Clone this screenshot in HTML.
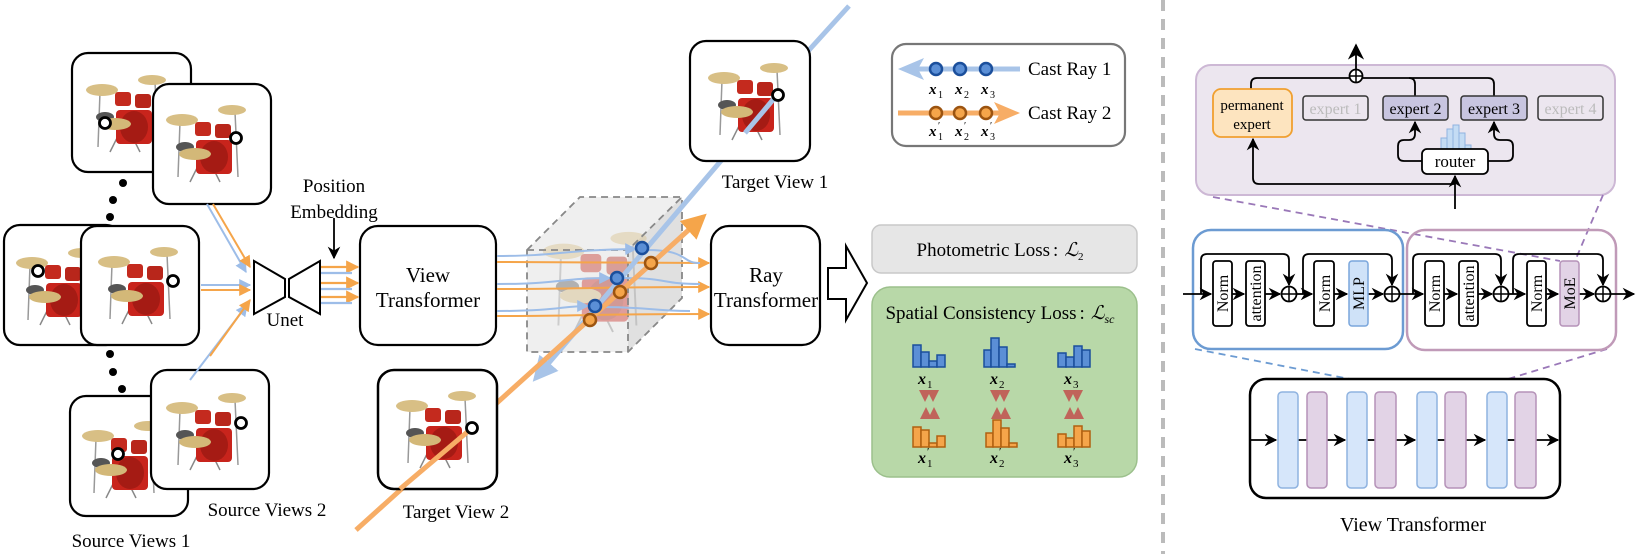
<!DOCTYPE html>
<html><head><meta charset="utf-8"><style>
html,body{margin:0;padding:0;background:#fff;}
svg{display:block;font-family:"Liberation Serif",serif;}
</style></head><body>
<svg width="1637" height="554" viewBox="0 0 1637 554" xmlns="http://www.w3.org/2000/svg">
<defs>
<g id="kit">
  <line x1="20" y1="30" x2="18" y2="85" stroke="#999" stroke-width="1.5"/>
  <line x1="75" y1="20" x2="78" y2="85" stroke="#999" stroke-width="1.5"/>
  <line x1="30" y1="90" x2="45" y2="60" stroke="#888" stroke-width="1.5"/>
  <line x1="60" y1="90" x2="45" y2="60" stroke="#888" stroke-width="1.5"/>
  <ellipse cx="22" cy="28" rx="16" ry="6" fill="#d8bf85"/>
  <ellipse cx="72" cy="18" rx="14" ry="5" fill="#d8bf85"/>
  <rect x="35" y="30" width="16" height="14" rx="3" fill="#c42a1e"/>
  <rect x="55" y="32" width="16" height="14" rx="3" fill="#b8261b"/>
  <ellipse cx="25" cy="55" rx="9" ry="5" fill="#555"/>
  <rect x="36" y="48" width="36" height="34" rx="4" fill="#c8241c"/>
  <ellipse cx="54" cy="65" rx="14" ry="16" fill="#a51b14"/>
  <ellipse cx="35" cy="62" rx="16" ry="6" fill="#d3b878"/>
</g>
<marker id="ah" viewBox="0 0 10 10" refX="9" refY="5" markerWidth="9" markerHeight="9" orient="auto-start-reverse"><path d="M0,0 L10,5 L0,10 L3,5z" fill="#000"/></marker>
<marker id="ahs" viewBox="0 0 10 10" refX="9" refY="5" markerWidth="7" markerHeight="7" orient="auto"><path d="M0,0 L10,5 L0,10 L3,5z" fill="#000"/></marker>
<marker id="ao" viewBox="0 0 10 10" refX="9" refY="5" markerWidth="6" markerHeight="6" orient="auto"><path d="M0,0 L10,5 L0,10z" fill="#f5a54a"/></marker>
<marker id="ab" viewBox="0 0 10 10" refX="9" refY="5" markerWidth="6" markerHeight="6" orient="auto"><path d="M0,0 L10,5 L0,10z" fill="#9dbde8"/></marker>
<marker id="aoL" viewBox="0 0 10 10" refX="8" refY="5" markerWidth="5" markerHeight="5" orient="auto"><path d="M0,0 L10,5 L0,10z" fill="#f5a54a"/></marker>
<marker id="abL" viewBox="0 0 10 10" refX="8" refY="5" markerWidth="5" markerHeight="5" orient="auto"><path d="M0,0 L10,5 L0,10z" fill="#a8c4e8"/></marker>
</defs>

<!-- Source cards -->
<rect x="72" y="53" width="119" height="119" rx="16" fill="#fff" stroke="#000" stroke-width="2.2"/>
<use href="#kit" transform="translate(80,62)"/>
<rect x="153" y="84" width="118" height="120" rx="16" fill="#fff" stroke="#000" stroke-width="2.2"/>
<use href="#kit" transform="translate(160,92)"/>
<rect x="4" y="225" width="118" height="120" rx="16" fill="#fff" stroke="#000" stroke-width="2.2"/>
<use href="#kit" transform="translate(10,235)"/>
<rect x="81" y="226" width="118" height="119" rx="16" fill="#fff" stroke="#000" stroke-width="2.2"/>
<use href="#kit" transform="translate(92,234)"/>
<rect x="70" y="396" width="118" height="120" rx="16" fill="#fff" stroke="#000" stroke-width="2.2"/>
<use href="#kit" transform="translate(76,408)"/>
<rect x="151" y="370" width="118" height="119" rx="16" fill="#fff" stroke="#000" stroke-width="2.2"/>
<use href="#kit" transform="translate(160,380)"/>
<g fill="#fff" stroke="#000" stroke-width="2.8">
<circle cx="105" cy="123" r="5.5"/><circle cx="236" cy="138" r="5.5"/><circle cx="38" cy="271" r="5.5"/>
<circle cx="173" cy="281" r="5.5"/><circle cx="118" cy="454" r="5.5"/><circle cx="241" cy="423" r="5.5"/>
</g>
<g fill="#000"><circle cx="123" cy="183" r="4"/><circle cx="113" cy="200" r="4"/><circle cx="110" cy="217" r="4"/>
<circle cx="110" cy="354" r="4"/><circle cx="113" cy="372" r="4"/><circle cx="122" cy="389" r="4"/></g>
<text x="131" y="547" font-size="19" text-anchor="middle">Source Views 1</text>
<text x="267" y="516" font-size="19" text-anchor="middle">Source Views 2</text>

<g stroke-width="2" fill="none">
<line x1="207" y1="204" x2="246" y2="272" stroke="#9dbde8" marker-end="url(#ab)"/>
<line x1="213" y1="204" x2="250" y2="267" stroke="#f5a54a" marker-end="url(#ao)"/>
<line x1="201" y1="285" x2="250" y2="285" stroke="#9dbde8" marker-end="url(#ab)"/>
<line x1="201" y1="290" x2="250" y2="290" stroke="#f5a54a" marker-end="url(#ao)"/>
<line x1="190" y1="380" x2="247" y2="305" stroke="#9dbde8" marker-end="url(#ab)"/>
<line x1="210" y1="356" x2="250" y2="300" stroke="#f5a54a" marker-end="url(#ao)"/>
</g>
<path d="M254,261 L285,279 L285,297 L254,314 Z" fill="#fff" stroke="#000" stroke-width="2"/>
<path d="M320,261 L289,279 L289,297 L320,314 Z" fill="#fff" stroke="#000" stroke-width="2"/>
<text x="285" y="326" font-size="19" text-anchor="middle">Unet</text>
<text x="334" y="192" font-size="19" text-anchor="middle">Position</text>
<text x="334" y="218" font-size="19" text-anchor="middle">Embedding</text>
<line x1="334" y1="218" x2="334" y2="258" stroke="#000" stroke-width="1.8" marker-end="url(#ahs)"/>
<g stroke-width="2.2" fill="none">
<line x1="321" y1="267" x2="358" y2="267" stroke="#f5a54a" marker-end="url(#ao)"/>
<line x1="321" y1="273" x2="352" y2="273" stroke="#9dbde8"/>
<line x1="321" y1="283" x2="358" y2="283" stroke="#f5a54a" marker-end="url(#ao)"/>
<line x1="321" y1="289" x2="352" y2="289" stroke="#9dbde8"/>
<line x1="321" y1="297" x2="358" y2="297" stroke="#f5a54a" marker-end="url(#ao)"/>
<line x1="321" y1="303" x2="352" y2="303" stroke="#9dbde8"/>
</g>

<rect x="360" y="226" width="136" height="119" rx="18" fill="#fff" stroke="#000" stroke-width="2.2"/>
<text x="428" y="282" font-size="21" text-anchor="middle">View</text>
<text x="428" y="307" font-size="21" text-anchor="middle">Transformer</text>

<path d="M580,197 L682,197 L682,298 L628,352 L527,352 L527,250 Z" fill="#ececec" opacity="0.85"/>
<path d="M628,250 L682,197 L682,298 L628,352 Z" fill="#e0e0e0"/>
<g opacity="0.4"><use href="#kit" transform="translate(535,215) scale(1.3)"/></g>
<g stroke="#888" stroke-width="1.8" stroke-dasharray="7,5" fill="none">
<path d="M527,250 L580,197 L682,197 L682,298 L628,352 L527,352 Z"/>
<path d="M527,250 L628,250 L682,197 M628,250 L628,352"/>
</g>
<g fill="none" stroke-width="2">
<path d="M497,256 C560,256 560,250 636,249" stroke="#9dbde8" marker-end="url(#ab)"/>
<path d="M497,262 C580,262 600,263 709,263" stroke="#f5a54a" marker-end="url(#ao)"/>
<path d="M646,250 C690,250 680,263 700,263" stroke="#9dbde8"/>
<path d="M497,284 C560,284 560,278 610,278" stroke="#9dbde8" marker-end="url(#ab)"/>
<path d="M497,289 C580,289 600,287 709,287" stroke="#f5a54a" marker-end="url(#ao)"/>
<path d="M622,278 C670,278 660,284 700,284" stroke="#9dbde8"/>
<path d="M497,311 C560,311 560,306 588,306" stroke="#9dbde8" marker-end="url(#ab)"/>
<path d="M497,316 C580,316 600,314 709,314" stroke="#f5a54a" marker-end="url(#ao)"/>
<path d="M600,307 C650,307 650,311 690,311" stroke="#9dbde8"/>
</g>
<line x1="849" y1="6" x2="800" y2="60" stroke="#a8c4e8" stroke-width="5"/>
<line x1="777" y1="95" x2="536" y2="378" stroke="#a8c4e8" stroke-width="5" marker-end="url(#abL)"/>
<line x1="356" y1="530" x2="703" y2="217" stroke="#f7ad66" stroke-width="5" marker-end="url(#aoL)"/>
<g stroke-width="2.5">
<circle cx="642" cy="248" r="6" fill="#5b8fd6" stroke="#1b4f9c"/>
<circle cx="617" cy="278" r="6" fill="#5b8fd6" stroke="#1b4f9c"/>
<circle cx="595" cy="306" r="6" fill="#5b8fd6" stroke="#1b4f9c"/>
<circle cx="651" cy="263" r="6" fill="#f5a54a" stroke="#9c5410"/>
<circle cx="620" cy="292" r="6" fill="#f5a54a" stroke="#9c5410"/>
<circle cx="590" cy="320" r="6" fill="#f5a54a" stroke="#9c5410"/>
</g>

<rect x="690" y="41" width="120" height="120" rx="16" fill="#fff" stroke="#000" stroke-width="2.2"/>
<use href="#kit" transform="translate(702,50)"/>
<line x1="777" y1="95" x2="745" y2="133" stroke="#a8c4e8" stroke-width="5"/>
<circle cx="778" cy="95" r="5.5" fill="#fff" stroke="#000" stroke-width="2.8"/>
<text x="775" y="188" font-size="19" text-anchor="middle">Target View 1</text>
<rect x="378" y="370" width="119" height="119" rx="16" fill="#fff" stroke="#000" stroke-width="2.5"/>
<use href="#kit" transform="translate(390,378)"/>
<line x1="400" y1="489" x2="472" y2="428" stroke="#f7ad66" stroke-width="5"/>
<circle cx="472" cy="428" r="5.5" fill="#fff" stroke="#000" stroke-width="2.8"/>
<text x="456" y="518" font-size="19" text-anchor="middle">Target View 2</text>

<rect x="711" y="226" width="109" height="119" rx="18" fill="#fff" stroke="#000" stroke-width="2.2"/>
<text x="766" y="282" font-size="21" text-anchor="middle">Ray</text>
<text x="766" y="307" font-size="21" text-anchor="middle">Transformer</text>
<path d="M828,268 L846,268 L846,246 L867,283 L846,320 L846,299 L828,299 Z" fill="#fff" stroke="#000" stroke-width="2"/>

<rect x="892" y="44" width="233" height="102" rx="14" fill="#fff" stroke="#777" stroke-width="2.2"/>
<line x1="1020" y1="69" x2="915" y2="69" stroke="#a8c4e8" stroke-width="5"/>
<path d="M898,69 L924,58 L918,69 L924,80 Z" fill="#a8c4e8"/>
<line x1="898" y1="113" x2="1005" y2="113" stroke="#f7ad66" stroke-width="5"/>
<path d="M1020,113 L994,102 L1000,113 L994,124 Z" fill="#f7ad66"/>
<g stroke-width="2.5">
<circle cx="936" cy="69" r="6" fill="#5b8fd6" stroke="#1b4f9c"/><circle cx="960" cy="69" r="6" fill="#5b8fd6" stroke="#1b4f9c"/><circle cx="986" cy="69" r="6" fill="#5b8fd6" stroke="#1b4f9c"/>
<circle cx="936" cy="113" r="6" fill="#f5a54a" stroke="#9c5410"/><circle cx="960" cy="113" r="6" fill="#f5a54a" stroke="#9c5410"/><circle cx="986" cy="113" r="6" fill="#f5a54a" stroke="#9c5410"/>
</g>
<g font-size="15" font-weight="bold" font-style="italic">
<text x="929" y="94">x</text><text x="955" y="94">x</text><text x="981" y="94">x</text>
<text x="929" y="136">x</text><text x="955" y="136">x</text><text x="981" y="136">x</text>
</g>
<g font-size="10">
<text x="938" y="98">1</text><text x="964" y="98">2</text><text x="990" y="98">3</text>
<text x="938" y="140">1</text><text x="964" y="140">2</text><text x="990" y="140">3</text>
<text x="938" y="129">′</text><text x="964" y="129">′</text><text x="990" y="129">′</text>
</g>
<text x="1028" y="75" font-size="19">Cast Ray 1</text>
<text x="1028" y="119" font-size="19">Cast Ray 2</text>

<rect x="872" y="225" width="265" height="48" rx="9" fill="#e6e6e6" stroke="#c8c8c8" stroke-width="1.5"/>
<text x="1000" y="256" font-size="19" text-anchor="middle">Photometric Loss<tspan dx="3">:</tspan><tspan dx="6" font-style="italic">ℒ</tspan><tspan font-size="11" dy="4">2</tspan></text>
<rect x="872" y="287" width="265" height="190" rx="18" fill="#b8d8a8" stroke="#9cc08c" stroke-width="1.5"/>
<text x="1000" y="319" font-size="19" text-anchor="middle">Spatial Consistency Loss<tspan dx="3">:</tspan><tspan dx="6" font-style="italic">ℒ</tspan><tspan font-size="12" dy="4" font-style="italic">sc</tspan></text>
<g stroke-width="1.5">
<g fill="#5b8fd6" stroke="#1b4f9c">
<rect x="913" y="345" width="8" height="22"/><rect x="921" y="352" width="8" height="15"/><rect x="929" y="361" width="8" height="6"/><rect x="937" y="355" width="8" height="12"/>
<rect x="984" y="350" width="7" height="17"/><rect x="991" y="338" width="8" height="29"/><rect x="999" y="347" width="8" height="20"/><rect x="1007" y="364" width="8" height="3"/>
<rect x="1058" y="353" width="8" height="14"/><rect x="1066" y="357" width="8" height="10"/><rect x="1074" y="346" width="8" height="21"/><rect x="1082" y="350" width="8" height="17"/>
</g>
<g fill="#f5a54a" stroke="#b06010">
<rect x="913" y="427" width="8" height="20"/><rect x="921" y="430" width="8" height="17"/><rect x="929" y="443" width="8" height="4"/><rect x="937" y="436" width="8" height="11"/>
<rect x="986" y="433" width="7" height="14"/><rect x="993" y="420" width="8" height="27"/><rect x="1001" y="428" width="8" height="19"/><rect x="1009" y="443" width="8" height="4"/>
<rect x="1058" y="434" width="8" height="13"/><rect x="1066" y="438" width="8" height="9"/><rect x="1074" y="426" width="8" height="21"/><rect x="1082" y="431" width="8" height="16"/>
</g>
</g>
<g fill="#c0645a">
<path d="M919,390 l12,0 l-6,12z M927,390 l12,0 l-6,12z M920,419 l12,0 l-6,-12z M928,419 l12,0 l-6,-12z"/>
<path d="M990,390 l12,0 l-6,12z M998,390 l12,0 l-6,12z M991,419 l12,0 l-6,-12z M999,419 l12,0 l-6,-12z"/>
<path d="M1063,390 l12,0 l-6,12z M1071,390 l12,0 l-6,12z M1064,419 l12,0 l-6,-12z M1072,419 l12,0 l-6,-12z"/>
</g>
<g font-size="16" font-weight="bold" font-style="italic">
<text x="918" y="384">x</text><text x="990" y="384">x</text><text x="1064" y="384">x</text>
<text x="918" y="463">x</text><text x="990" y="463">x</text><text x="1064" y="463">x</text>
</g>
<g font-size="11">
<text x="927" y="388">1</text><text x="999" y="388">2</text><text x="1073" y="388">3</text>
<text x="927" y="467">1</text><text x="999" y="467">2</text><text x="1073" y="467">3</text>
<text x="927" y="455">′</text><text x="999" y="455">′</text><text x="1073" y="455">′</text>
</g>

<line x1="1163" y1="0" x2="1163" y2="554" stroke="#bbb" stroke-width="4" stroke-dasharray="11,8"/>

<rect x="1196" y="65" width="419" height="130" rx="15" fill="#ece6ef" stroke="#cdb8d5" stroke-width="2"/>
<g fill="none" stroke="#000" stroke-width="1.8">
<path d="M1251,89 L1251,84 Q1251,78 1257,78 L1488,78 Q1494,78 1494,84 L1494,96"/>
<path d="M1409,78 Q1415,78 1415,84 L1415,96"/>
<line x1="1356" y1="70" x2="1356" y2="45" marker-end="url(#ah)"/>
<path d="M1422,161 L1404,161 Q1398,161 1398,155 L1398,146 Q1398,140 1404,140 L1409,140 Q1415,140 1415,134 L1415,122" marker-end="url(#ahs)"/>
<path d="M1488,161 L1507,161 Q1513,161 1513,155 L1513,146 Q1513,140 1507,140 L1500,140 Q1494,140 1494,134 L1494,122" marker-end="url(#ahs)"/>
<line x1="1455" y1="209" x2="1455" y2="176" marker-end="url(#ahs)"/>
<path d="M1455,184 L1259,184 Q1253,184 1253,178 L1253,139" marker-end="url(#ahs)"/>
</g>
<circle cx="1356" cy="76" r="6.5" fill="#fff" stroke="#000" stroke-width="1.8"/>
<path d="M1349.5,76 h13 M1356,69.5 v13" stroke="#000" stroke-width="1.5"/>
<rect x="1213" y="89" width="79" height="48" rx="8" fill="#fde4bf" stroke="#f0a030" stroke-width="1.8"/>
<text x="1252" y="110" font-size="15" text-anchor="middle">permanent</text>
<text x="1252" y="129" font-size="15" text-anchor="middle">expert</text>
<rect x="1303" y="96" width="65" height="24" rx="3" fill="#ece6ef" stroke="#333" stroke-width="1.5"/>
<text x="1335.5" y="114" font-size="16" text-anchor="middle" fill="#bbb">expert 1</text>
<rect x="1383" y="96" width="65" height="24" rx="3" fill="#c8c5e0" stroke="#333" stroke-width="1.5"/>
<text x="1415.5" y="114" font-size="16" text-anchor="middle">expert 2</text>
<rect x="1461" y="96" width="66" height="24" rx="3" fill="#c8c5e0" stroke="#333" stroke-width="1.5"/>
<text x="1494" y="114" font-size="16" text-anchor="middle">expert 3</text>
<rect x="1538" y="96" width="65" height="24" rx="3" fill="#ece6ef" stroke="#333" stroke-width="1.5"/>
<text x="1570.5" y="114" font-size="16" text-anchor="middle" fill="#bbb">expert 4</text>
<g fill="#c4dcf4" stroke="#8fb3e0" stroke-width="1">
<rect x="1441" y="138" width="6" height="11"/><rect x="1447" y="129" width="6" height="20"/><rect x="1453" y="125" width="6" height="24"/><rect x="1459" y="133" width="6" height="16"/><rect x="1465" y="145" width="6" height="4"/>
</g>
<rect x="1422" y="149" width="66" height="25" rx="5" fill="#fff" stroke="#000" stroke-width="1.8"/>
<text x="1455" y="167" font-size="17" text-anchor="middle">router</text>

<g stroke-width="1.8" stroke-dasharray="7,5" fill="none">
<line x1="1213" y1="197" x2="1560" y2="261" stroke="#9a78b8"/>
<line x1="1603" y1="195" x2="1575" y2="261" stroke="#9a78b8"/>
<line x1="1195" y1="349" x2="1417" y2="392" stroke="#6c9bd2"/>
<line x1="1607" y1="349" x2="1465" y2="392" stroke="#9a78b8"/>
</g>

<rect x="1193" y="230" width="210" height="119" rx="18" fill="none" stroke="#6c9bd2" stroke-width="2.5"/>
<rect x="1407" y="230" width="209" height="120" rx="18" fill="none" stroke="#c09ab8" stroke-width="2.5"/>
<g fill="none" stroke="#000" stroke-width="1.8">
<line x1="1183" y1="294" x2="1211" y2="294" marker-end="url(#ahs)"/>
<line x1="1232" y1="294" x2="1244" y2="294" marker-end="url(#ahs)"/>
<line x1="1265" y1="294" x2="1280" y2="294" marker-end="url(#ahs)"/>
<line x1="1297" y1="294" x2="1312" y2="294" marker-end="url(#ahs)"/>
<line x1="1334" y1="294" x2="1347" y2="294" marker-end="url(#ahs)"/>
<line x1="1368" y1="294" x2="1383" y2="294" marker-end="url(#ahs)"/>
<line x1="1400" y1="294" x2="1423" y2="294" marker-end="url(#ahs)"/>
<line x1="1444" y1="294" x2="1457" y2="294" marker-end="url(#ahs)"/>
<line x1="1478" y1="294" x2="1492" y2="294" marker-end="url(#ahs)"/>
<line x1="1509" y1="294" x2="1525" y2="294" marker-end="url(#ahs)"/>
<line x1="1546" y1="294" x2="1558" y2="294" marker-end="url(#ahs)"/>
<line x1="1579" y1="294" x2="1594" y2="294" marker-end="url(#ahs)"/>
<line x1="1611" y1="294" x2="1634" y2="294" marker-end="url(#ahs)"/>
<path d="M1201,294 L1201,260 Q1201,254 1207,254 L1283,254 Q1289,254 1289,260 L1289,285" marker-end="url(#ahs)"/>
<path d="M1303,294 L1303,260 Q1303,254 1309,254 L1386,254 Q1392,254 1392,260 L1392,285" marker-end="url(#ahs)"/>
<path d="M1413,294 L1413,260 Q1413,254 1419,254 L1495,254 Q1501,254 1501,260 L1501,285" marker-end="url(#ahs)"/>
<path d="M1513,294 L1513,260 Q1513,254 1519,254 L1597,254 Q1603,254 1603,260 L1603,285" marker-end="url(#ahs)"/>
</g>
<g fill="#fff" stroke="#000" stroke-width="1.8">
<circle cx="1289" cy="294" r="7.5"/><circle cx="1392" cy="294" r="7.5"/><circle cx="1501" cy="294" r="7.5"/><circle cx="1603" cy="294" r="7.5"/>
</g>
<path d="M1281.5,294h15M1289,286.5v15M1384.5,294h15M1392,286.5v15M1493.5,294h15M1501,286.5v15M1595.5,294h15M1603,286.5v15" stroke="#000" stroke-width="1.5"/>
<g stroke="#000" stroke-width="1.8" fill="#fff">
<rect x="1213" y="261" width="19" height="65" rx="3"/><rect x="1246" y="261" width="19" height="65" rx="3"/>
<rect x="1314" y="261" width="20" height="65" rx="3"/>
<rect x="1425" y="261" width="19" height="65" rx="3"/><rect x="1459" y="261" width="19" height="65" rx="3"/>
<rect x="1527" y="261" width="19" height="65" rx="3"/>
</g>
<rect x="1349" y="261" width="19" height="65" rx="3" fill="#cfe2f8" stroke="#7aa6dc" stroke-width="1.5"/>
<rect x="1560" y="261" width="19" height="65" rx="3" fill="#e2d3e6" stroke="#b592b8" stroke-width="1.5"/>
<g font-size="16" text-anchor="middle">
<text transform="translate(1228,293.5) rotate(-90)">Norm</text>
<text transform="translate(1261,293.5) rotate(-90)">attention</text>
<text transform="translate(1330,293.5) rotate(-90)">Norm</text>
<text transform="translate(1364,293.5) rotate(-90)">MLP</text>
<text transform="translate(1440,293.5) rotate(-90)">Norm</text>
<text transform="translate(1474,293.5) rotate(-90)">attention</text>
<text transform="translate(1542,293.5) rotate(-90)">Norm</text>
<text transform="translate(1575,293.5) rotate(-90)">MoE</text>
</g>

<rect x="1250" y="379" width="310" height="119" rx="16" fill="#fff" stroke="#000" stroke-width="2.5"/>
<g fill="none" stroke="#000" stroke-width="1.8">
<line x1="1250" y1="440" x2="1276" y2="440" marker-end="url(#ahs)"/>
<line x1="1327" y1="440" x2="1345" y2="440" marker-end="url(#ahs)"/>
<line x1="1396" y1="440" x2="1415" y2="440" marker-end="url(#ahs)"/>
<line x1="1466" y1="440" x2="1485" y2="440" marker-end="url(#ahs)"/>
<line x1="1536" y1="440" x2="1558" y2="440" marker-end="url(#ahs)"/>
<line x1="1298" y1="440" x2="1307" y2="440"/><line x1="1367" y1="440" x2="1375" y2="440"/><line x1="1437" y1="440" x2="1445" y2="440"/><line x1="1507" y1="440" x2="1515" y2="440"/>
</g>
<g stroke-width="1.5">
<rect x="1278" y="392" width="20" height="96" rx="4" fill="#d6e6fa" stroke="#8fb3e0"/>
<rect x="1307" y="392" width="20" height="96" rx="4" fill="#e2d3e6" stroke="#b592b8"/>
<rect x="1347" y="392" width="20" height="96" rx="4" fill="#d6e6fa" stroke="#8fb3e0"/>
<rect x="1375" y="392" width="21" height="96" rx="4" fill="#e2d3e6" stroke="#b592b8"/>
<rect x="1417" y="392" width="20" height="96" rx="4" fill="#d6e6fa" stroke="#8fb3e0"/>
<rect x="1445" y="392" width="21" height="96" rx="4" fill="#e2d3e6" stroke="#b592b8"/>
<rect x="1487" y="392" width="20" height="96" rx="4" fill="#d6e6fa" stroke="#8fb3e0"/>
<rect x="1515" y="392" width="21" height="96" rx="4" fill="#e2d3e6" stroke="#b592b8"/>
</g>
<text x="1413" y="531" font-size="20" text-anchor="middle">View Transformer</text>
</svg>
</body></html>
